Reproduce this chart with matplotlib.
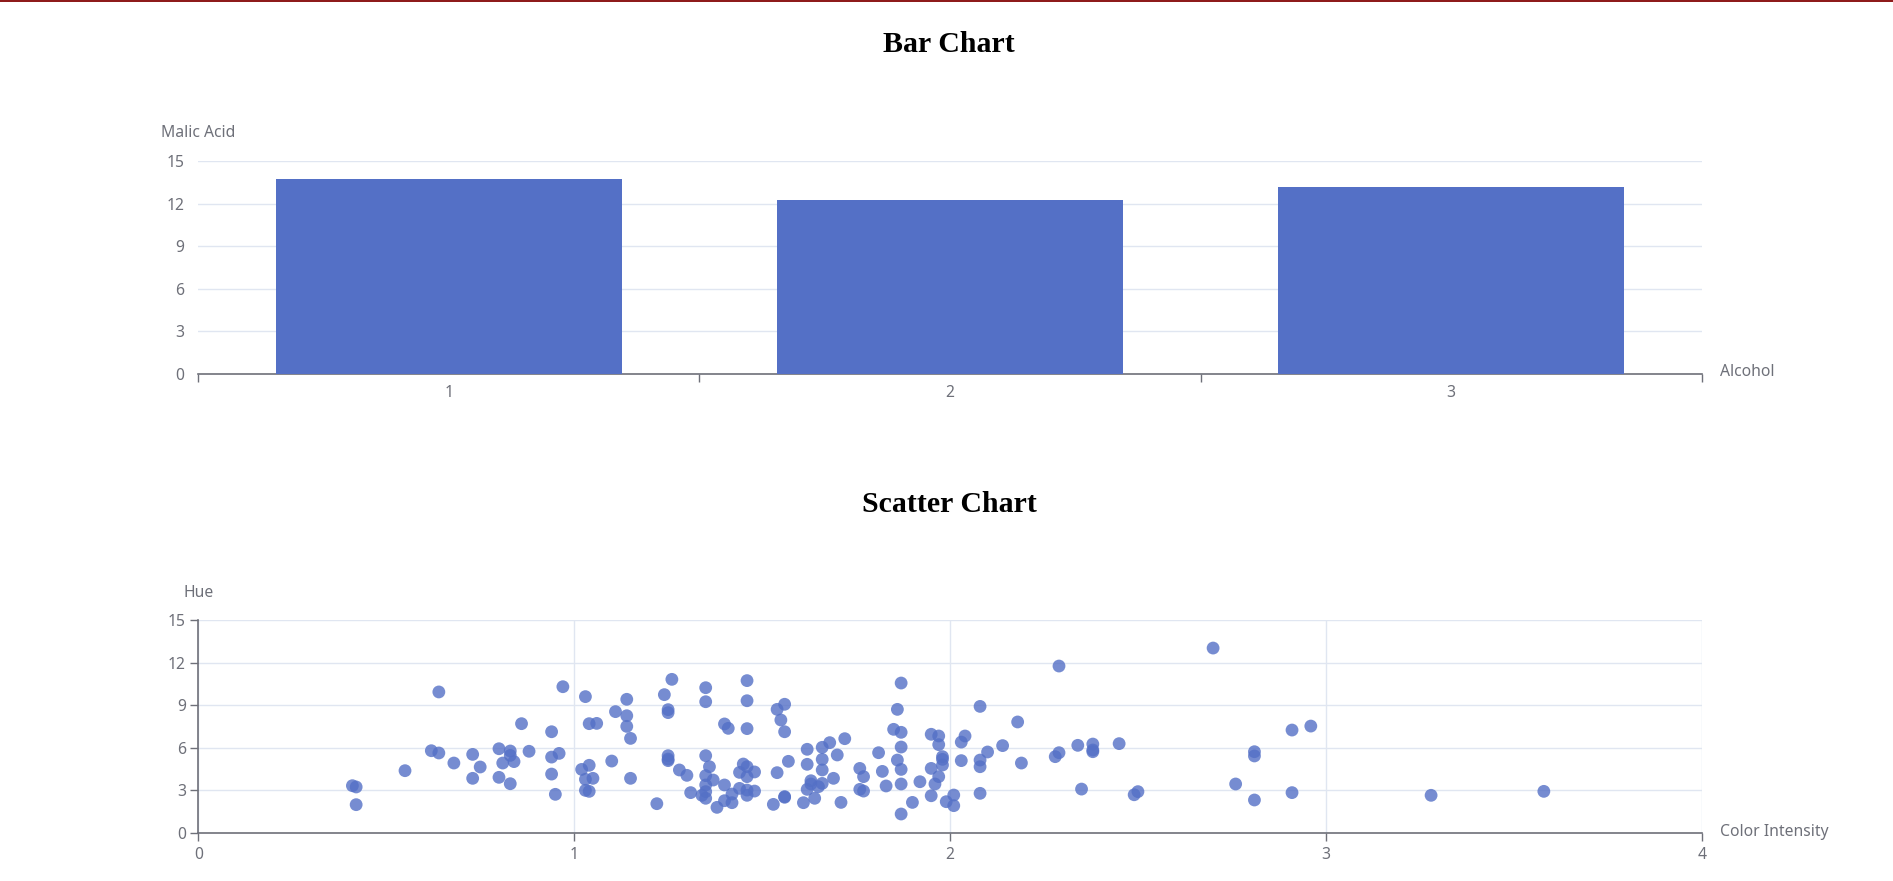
import matplotlib
matplotlib.use('Agg')
import matplotlib.pyplot as plt
from matplotlib.patches import Rectangle

# ---------------- data ----------------
bar_categories = ['1', '2', '3']
bar_values = [13.74, 12.28, 13.15]

scatter_x = [
    0.41, 0.42, 0.42, 0.55, 0.64, 0.62, 0.64, 0.68, 0.73, 0.73, 0.75, 0.80,
    0.80, 0.81, 0.83, 0.83, 0.84, 0.83, 0.86, 0.88, 0.94, 0.94, 0.94, 0.95,
    0.97, 0.96, 1.03, 1.04, 1.06, 1.11, 1.14, 1.14, 1.14, 1.15, 1.02, 1.04,
    1.03, 1.05, 1.03, 1.04, 1.10, 1.15, 1.22, 1.24, 1.26, 1.25, 1.25, 1.25,
    1.25, 1.25, 1.28, 1.30, 1.31, 1.35, 1.35, 1.35, 1.36, 1.35, 1.37, 1.35,
    1.35, 1.34, 1.35, 1.38, 1.40, 1.40, 1.41, 1.40, 1.42, 1.42, 1.44, 1.45,
    1.46, 1.44, 1.46, 1.48, 1.46, 1.46, 1.46, 1.46, 1.46, 1.48, 1.53, 1.54,
    1.54,
    1.56, 1.55, 1.56, 1.57, 1.56, 1.56, 1.61, 1.62, 1.62, 1.62, 1.63, 1.63,
    1.64, 1.65, 1.66, 1.66, 1.66, 1.66, 1.68, 1.69, 1.70, 1.71, 1.72, 1.76,
    1.77, 1.76, 1.77, 1.81, 1.82, 1.83, 1.85, 1.86, 1.87, 1.87, 1.87, 1.86,
    1.87, 1.87, 1.87, 1.90, 1.92, 1.95, 1.97, 1.97, 1.98, 1.98, 1.98, 1.95,
    1.97, 1.96, 1.95, 1.99, 2.01, 2.01, 2.03, 2.04, 2.03, 2.08, 2.08, 2.08,
    2.08, 2.10,
    2.14, 2.18, 2.19, 2.29, 2.28, 2.29, 2.34, 2.35, 2.38, 2.38, 2.38, 2.45,
    2.49, 2.50, 2.70,
    2.76, 2.81, 2.81, 2.81, 2.91, 2.91, 2.96, 3.28, 3.58,
]
scatter_y = [
    3.32, 3.23, 1.98, 4.38, 9.94, 5.79, 5.63, 4.92, 5.53, 3.84, 4.64, 5.93,
    3.91, 4.92, 5.77, 5.46, 5.02, 3.46, 7.70, 5.75, 7.13, 5.34, 4.14, 2.71,
    10.31, 5.60, 9.61, 7.70, 7.72, 8.55, 9.42, 8.26, 7.51, 6.66, 4.47, 4.76,
    3.77, 3.84, 2.99, 2.92, 5.06, 3.84, 2.05, 9.75, 10.83, 8.69, 8.48, 5.44,
    5.20, 5.09, 4.43, 4.05, 2.83, 10.24, 9.25, 5.44, 4.66, 4.03, 3.72, 3.37,
    2.90, 2.64, 2.43, 1.79, 3.37, 7.68, 7.37, 2.26, 2.73, 2.12, 3.13, 4.85,
    4.66, 4.26, 3.96, 4.29, 10.74, 9.32, 7.35, 3.01, 2.64, 2.94, 2.00, 8.71,
    4.24,
    9.07, 7.96, 7.13, 5.04, 2.50, 2.55, 2.12, 5.89, 4.83, 3.06, 3.67, 3.44,
    2.43, 3.25, 3.48, 4.43, 5.18, 6.03, 6.36, 3.84, 5.49, 2.14, 6.64, 4.54,
    3.96, 3.06, 2.94, 5.65, 4.33, 3.30, 7.30, 8.71, 10.57, 7.09, 6.05, 5.13,
    4.47, 3.44, 1.32, 2.14, 3.60, 6.95, 6.83, 6.22, 5.37, 5.18, 4.78, 4.54,
    3.96, 3.44, 2.61, 2.19, 2.66, 1.91, 6.40, 6.83, 5.09, 8.92, 5.13, 4.66,
    2.78, 5.70,
    6.15, 7.82, 4.92, 11.77, 5.37, 5.65, 6.17, 3.08, 6.26, 5.84, 5.72, 6.29,
    2.68, 2.90, 13.04,
    3.44, 5.72, 5.42, 2.31, 7.25, 2.83, 7.53, 2.64, 2.92,
]

# ---------------- styling ----------------
W, H = 1893, 881
plt.rcParams['font.family'] = ['Noto Sans', 'DejaVu Sans']
AXC = '#6E7079'
GRID = '#E0E6F1'
BLUE = '#5470C6'
LBL = 11.3

fig = plt.figure(figsize=(W / 100, H / 100), dpi=100)
fig.patch.set_facecolor('white')


def fx(px):
    return px / W


def fy(py):
    return 1 - py / H


# top dark-red border line
fig.add_artist(Rectangle((0, fy(2)), 1, 2 / H, transform=fig.transFigure,
                         color='#8E1B1B', lw=0))

L, R = 198.3, 1701.7
B1T, B1B = 161.3, 373.7
S1T, S1B = 620.3, 832.7
ax1 = fig.add_axes([fx(L), fy(B1B), (R - L) / W, (B1B - B1T) / H])
ax2 = fig.add_axes([fx(L), fy(S1B), (R - L) / W, (S1B - S1T) / H])

# ---------------- bar chart ----------------
pos = list(range(len(bar_categories)))
ax1.bar(pos, bar_values, width=0.69, color=BLUE, zorder=3)
ax1.set_xlim(-0.5, len(bar_categories) - 0.5)
ax1.set_ylim(0, 15)
ax1.set_yticks(range(0, 16, 3))
ax1.set_xticks([p - 0.5 for p in pos] + [pos[-1] + 0.5])
ax1.set_xticklabels([])
ax1.set_xticks(pos, minor=True)
ax1.set_xticklabels(bar_categories, minor=True)
ax1.tick_params(axis='x', which='major', direction='out', length=6,
                width=1, color=AXC)
ax1.tick_params(axis='x', which='minor', length=0, pad=8,
                labelcolor=AXC, labelsize=LBL)
ax1.tick_params(axis='y', length=0, pad=10, labelcolor=AXC, labelsize=LBL)
for s in ['top', 'right', 'left']:
    ax1.spines[s].set_visible(False)
ax1.spines['bottom'].set_color(AXC)
ax1.spines['bottom'].set_linewidth(1.2)
ax1.yaxis.grid(True, color=GRID, lw=1)
ax1.set_axisbelow(True)

fig.text(fx(L), fy(133), 'Malic Acid', ha='center', va='center',
         color=AXC, fontsize=LBL)
fig.text(fx(1720), fy(372), 'Alcohol', ha='left', va='center',
         color=AXC, fontsize=LBL)

# ---------------- scatter chart ----------------
ax2.scatter(scatter_x, scatter_y, s=85, color=BLUE, alpha=0.8,
            edgecolors='none', zorder=3)
ax2.set_xlim(0, 4)
ax2.set_ylim(0, 15)
ax2.set_xticks(range(0, 5))
ax2.set_yticks(range(0, 16, 3))
ax2.tick_params(axis='both', direction='out', length=6, width=1, color=AXC,
                labelcolor=AXC, labelsize=LBL)
ax2.tick_params(axis='x', pad=4)
ax2.tick_params(axis='y', pad=3)
for s in ['top', 'right']:
    ax2.spines[s].set_visible(False)
for s in ['left', 'bottom']:
    ax2.spines[s].set_color(AXC)
    ax2.spines[s].set_linewidth(1.2)
ax2.grid(True, color=GRID, lw=1)
ax2.set_axisbelow(True)

fig.text(fx(L), fy(593), 'Hue', ha='center', va='center',
         color=AXC, fontsize=LBL)
fig.text(fx(1720), fy(832), 'Color Intensity', ha='left', va='center',
         color=AXC, fontsize=LBL)

# ---------------- titles ----------------
fig.text(fx(949), fy(45), 'Bar Chart', ha='center', va='center',
         fontsize=21.5, fontweight='bold', family='Liberation Serif')
fig.text(fx(949), fy(505), 'Scatter Chart', ha='center', va='center',
         fontsize=21.5, fontweight='bold', family='Liberation Serif')

fig.savefig('out.png', dpi=100, facecolor='white')
